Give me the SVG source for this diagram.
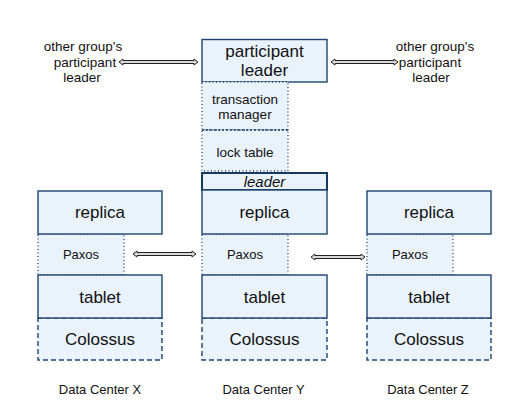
<svg xmlns="http://www.w3.org/2000/svg" width="524" height="420" viewBox="0 0 524 420">
<style>
text{font-family:"Liberation Sans",Arial,sans-serif;fill:#111;text-anchor:middle}
.big{font-size:17px}
.mid{font-size:13.5px}
.sm{font-size:13px}
.solid{fill:#EAF2FC;stroke:#1F4470;stroke-width:1.4}
.dot{fill:#EAF2FC;stroke:#1F4470;stroke-width:1.3;stroke-dasharray:1 2.5}
.dash{fill:#EAF2FC;stroke:#1F4470;stroke-width:1.4;stroke-dasharray:5 3}
.lead{fill:#EAF2FC;stroke:#173A5E;stroke-width:2}
.arr{fill:#D8D8D8;stroke:#222;stroke-width:1}
</style>
<rect width="524" height="420" fill="#fff"/>
<g id="connectors">
<path class="arr" d="M119,62 l4,-3 v1.5 H194 v-1.5 l4,3 l-4,3 v-1.5 H123 v1.5 Z"/>
<path class="arr" d="M331,62 l4,-3 v1.5 H394 v-1.5 l4,3 l-4,3 v-1.5 H335 v1.5 Z"/>
<path class="arr" d="M133,254 l4,-3 v1.5 H192 v-1.5 l4,3 l-4,3 v-1.5 H137 v1.5 Z"/>
<path class="arr" d="M311,257 l4,-3 v1.5 H361 v-1.5 l4,3 l-4,3 v-1.5 H315 v1.5 Z"/>
</g>
<g id="other-left">
<text class="mid" x="83" y="51">other group's</text>
<text class="mid" x="85" y="66.5">participant</text>
<text class="mid" x="82" y="82">leader</text>
</g>
<g id="other-right">
<text class="mid" x="435" y="51">other group's</text>
<text class="mid" x="430" y="66.5">participant</text>
<text class="mid" x="431" y="82">leader</text>
</g>
<g id="participant-leader">
<rect class="solid" x="202" y="39.5" width="125" height="42.5"/>
<text class="big" x="264.5" y="57">participant</text>
<text class="big" x="264.5" y="76">leader</text>
</g>
<g id="transaction-manager">
<rect class="dot" x="202" y="82" width="86" height="48"/>
<text class="mid" x="245" y="104">transaction</text>
<text class="mid" x="245" y="118.5">manager</text>
</g>
<g id="lock-table">
<rect class="dot" x="202" y="130" width="86" height="41"/>
<line x1="202" y1="130" x2="288" y2="130" stroke="#1F4470" stroke-width="1.3" stroke-dasharray="2 2"/>
<text class="mid" x="245" y="156.5">lock table</text>
</g>
<g id="paxos-x">
<rect class="dot" x="38" y="234" width="86" height="41"/>
<text class="mid" x="81" y="259" style="font-size:13px">Paxos</text>
</g>
<g id="paxos-y">
<rect class="dot" x="202" y="234" width="86" height="41"/>
<text class="mid" x="245" y="259" style="font-size:13px">Paxos</text>
</g>
<g id="paxos-z">
<rect class="dot" x="367" y="234" width="86" height="41"/>
<text class="mid" x="410" y="259" style="font-size:13px">Paxos</text>
</g>
<g id="leader">
<rect class="lead" x="202" y="173" width="125" height="17"/>
<text class="mid" x="264.5" y="187" style="font-style:italic;font-size:15px">leader</text>
</g>
<g id="replica-x">
<rect class="solid" x="38" y="191" width="124" height="43"/>
<text class="big" x="100" y="218">replica</text>
</g>
<g id="replica-y">
<rect class="solid" x="202" y="190" width="125" height="44"/>
<text class="big" x="264.5" y="218">replica</text>
</g>
<g id="replica-z">
<rect class="solid" x="367" y="191" width="124" height="43"/>
<text class="big" x="429" y="218">replica</text>
</g>
<g id="colossus-x">
<rect class="dash" x="38" y="318" width="124" height="42"/>
<text class="big" x="100" y="345">Colossus</text>
</g>
<g id="colossus-y">
<rect class="dash" x="202" y="318" width="125" height="42"/>
<text class="big" x="264.5" y="345">Colossus</text>
</g>
<g id="colossus-z">
<rect class="dash" x="367" y="318" width="124" height="42"/>
<text class="big" x="429" y="345">Colossus</text>
</g>
<g id="tablet-x">
<rect class="solid" x="38" y="275" width="124" height="43"/>
<text class="big" x="100" y="303">tablet</text>
</g>
<g id="tablet-y">
<rect class="solid" x="202" y="275" width="125" height="43"/>
<text class="big" x="264.5" y="303">tablet</text>
</g>
<g id="tablet-z">
<rect class="solid" x="367" y="275" width="124" height="43"/>
<text class="big" x="429" y="303">tablet</text>
</g>
<g id="labels">
<text class="sm" x="100" y="394">Data Center X</text>
<text class="sm" x="263.5" y="394">Data Center Y</text>
<text class="sm" x="428" y="394">Data Center Z</text>
</g>
</svg>
